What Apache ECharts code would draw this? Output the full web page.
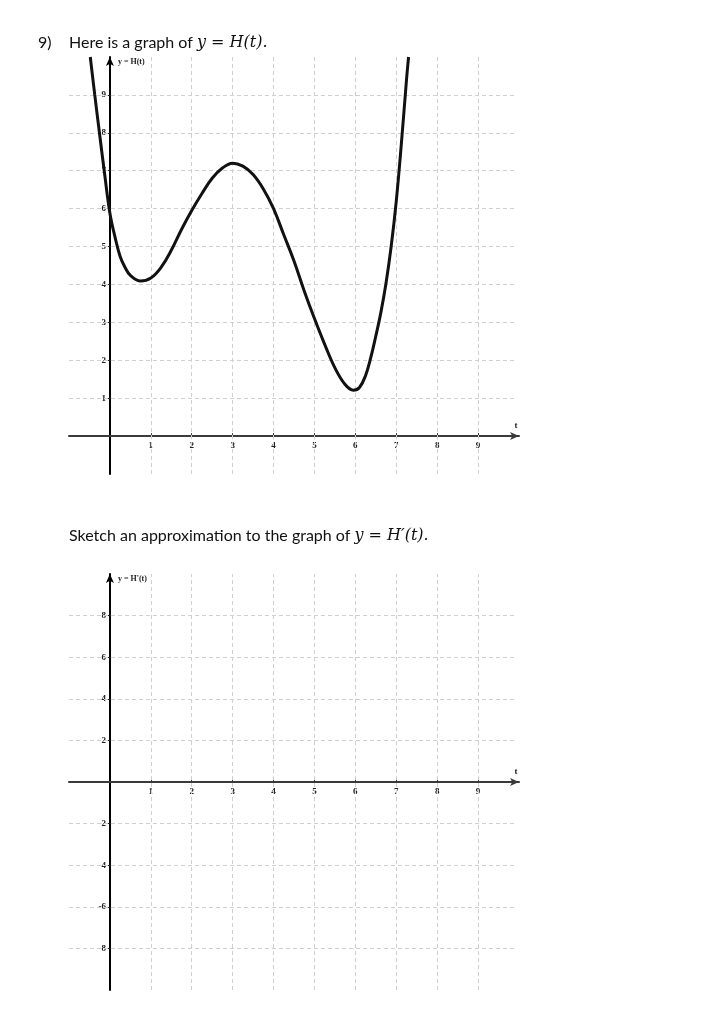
<!DOCTYPE html>
<html>
<head>
<meta charset="utf-8">
<script src="https://cdn.jsdelivr.net/npm/echarts@6/dist/echarts.min.js"></script>
<style>
html,body{margin:0;padding:0;background:#fff;}
#c{width:713px;height:1024px;}
</style>
</head>
<body>
<div id="c"></div>
<script>
// H(t)
const tValues = [-0.48,-0.37,-0.25,-0.125,0,0.125,0.25,0.375,0.5,0.75,1.0,1.25,1.5,1.75,2.0,2.25,2.5,2.75,3.0,3.25,3.5,3.75,4.0,4.25,4.5,4.75,5.0,5.25,5.5,5.75,5.95,6.1,6.25,6.375,6.5,6.625,6.75,6.875,7.0,7.125,7.25,7.30];
const hValues = [10,9,7.95,6.88,5.88,5.25,4.74,4.44,4.24,4.09,4.17,4.45,4.9,5.45,5.95,6.4,6.8,7.07,7.2,7.12,6.9,6.52,6.0,5.31,4.62,3.83,3.1,2.42,1.8,1.36,1.21,1.28,1.6,2.06,2.64,3.27,4.04,5.0,6.2,7.72,9.4,10];

// ticks / labels
const xTicks = [1,2,3,4,5,6,7,8,9];
const yTicksTop = [1,2,3,4,5,6,7,8,9];
const yTicksBottom = [-8,-6,-4,-2,2,4,6,8];

// gridline positions
const gridT = [1,2,3,4,5,6,7,8,9];
const gridYTop = [1,2,3,4,5,6,7,8,9];
const gridYBottom = [-8,-6,-4,-2,2,4,6,8];

// layout (pixels)
const GW = 450, GH1 = 417, GH2 = 416;
const X0 = GW / 11;          // t = 0 from left edge (range -1..10)
const Z1 = GH1 / 11;         // y = 0 from bottom, top chart (range -1..10)
const Z2 = GH2 / 2;          // y = 0 from bottom, bottom chart (range -10..10)

const labelFont = {fontFamily:'Liberation Serif', fontWeight:'bold', fontSize:9, color:'#222'};
const gridColor = '#d0d0d0';

function mainX(gi, off){
  return {
    type:'value', gridIndex:gi, min:-1, max:10, interval:1, position:'bottom', offset:-off,
    name:'t', nameLocation:'end', nameGap:-3,
    nameTextStyle:{fontFamily:'Liberation Serif', fontWeight:'bold', fontSize:9, color:'#222', align:'center', verticalAlign:'bottom', padding:[0,0,6,0]},
    axisLine:{show:true, onZero:false, symbol:['none','arrow'], symbolSize:[6,9], lineStyle:{color:'#3a3a3a', width:2}},
    axisTick:{show:true, customValues:xTicks, length:3, lineStyle:{color:'#3a3a3a', width:1}},
    axisLabel:{show:true, customValues:xTicks, margin:5, ...labelFont},
    splitLine:{show:false}
  };
}
function twinX(gi, off){
  return {
    type:'value', gridIndex:gi, min:-1, max:10, interval:1, position:'top', offset:-off,
    axisLine:{show:false, onZero:false},
    axisTick:{show:true, customValues:xTicks, length:3, lineStyle:{color:'#3a3a3a', width:1}},
    axisLabel:{show:false}, splitLine:{show:false}
  };
}
function mainY(gi, mn, mx, iv, ticks, nm){
  return {
    type:'value', gridIndex:gi, min:mn, max:mx, interval:iv, position:'left', offset:-X0,
    name:nm, nameLocation:'end', nameGap:-5,
    nameTextStyle:{fontFamily:'Liberation Serif', fontWeight:'bold', fontSize:8, color:'#222', align:'left', verticalAlign:'middle', padding:[0,0,0,8]},
    axisLine:{show:true, onZero:false, symbol:['none','arrow'], symbolSize:[6,9], lineStyle:{color:'#000', width:2}},
    axisTick:{show:true, customValues:ticks, length:3, lineStyle:{color:'#222', width:1}},
    axisLabel:{show:true, customValues:ticks, margin:4, ...labelFont},
    splitLine:{show:false}
  };
}
function twinY(gi, mn, mx, iv, ticks){
  return {
    type:'value', gridIndex:gi, min:mn, max:mx, interval:iv, position:'right', offset:-(GW - X0),
    axisLine:{show:false, onZero:false},
    axisTick:{show:true, customValues:ticks, length:3, lineStyle:{color:'#222', width:1}},
    axisLabel:{show:false}, splitLine:{show:false}
  };
}

const topGridLines = gridT.map(t=>({coords:[[t,-1],[t,10]]}))
  .concat(gridYTop.map(y=>({coords:[[-1,y],[9.95,y]]})));
const bottomGridLines = gridT.map(t=>({coords:[[t,-10],[t,10]]}))
  .concat(gridYBottom.map(y=>({coords:[[-1,y],[9.95,y]]})));

const mathStyle = {fontFamily:'DejaVu Serif', fontStyle:'italic', fontSize:16, fill:'#111'};

const chart = echarts.init(document.getElementById('c'), null, {renderer:'canvas'});
chart.setOption({
  backgroundColor:'#fff',
  animation:false,
  grid:[
    {left:69, top:57, width:GW, height:GH1, containLabel:false},
    {left:69, top:574, width:GW, height:GH2, containLabel:false}
  ],
  xAxis:[mainX(0, Z1), twinX(0, GH1 - Z1), mainX(1, Z2), twinX(1, GH2 - Z2)],
  yAxis:[
    mainY(0,-1,10,1,yTicksTop,'y = H(t)'), twinY(0,-1,10,1,yTicksTop),
    mainY(1,-10,10,2,yTicksBottom,"y = H'(t)"), twinY(1,-10,10,2,yTicksBottom)
  ],
  graphic:[
    {type:'text', left:38, top:35, style:{text:'9)', font:'16px Lato', fill:'#111'}},
    {type:'text', left:69, top:35, style:{
      text:'Here is a graph of {m|y = H(t).}',
      font:'16px Lato', fill:'#111', rich:{m:mathStyle}
    }},
    {type:'text', left:69, top:528, style:{
      text:"Sketch an approximation to the graph of {m|y = H′(t).}",
      font:'16px Lato', fill:'#111', rich:{m:mathStyle}
    }}
  ],
  series:[
    {type:'lines', coordinateSystem:'cartesian2d', xAxisIndex:0, yAxisIndex:0, silent:true, z:1,
     lineStyle:{color:gridColor, width:1, type:[4,3], opacity:1}, data:topGridLines},
    {type:'lines', coordinateSystem:'cartesian2d', xAxisIndex:2, yAxisIndex:2, silent:true, z:1,
     lineStyle:{color:gridColor, width:1, type:[4,3], opacity:1}, data:bottomGridLines},
    {type:'line', xAxisIndex:0, yAxisIndex:0, smooth:0.4, symbol:'none', z:5,
     lineStyle:{color:'#111', width:3}, data:tValues.map((t,i)=>[t,hValues[i]])}
  ]
});
</script>
</body>
</html>
